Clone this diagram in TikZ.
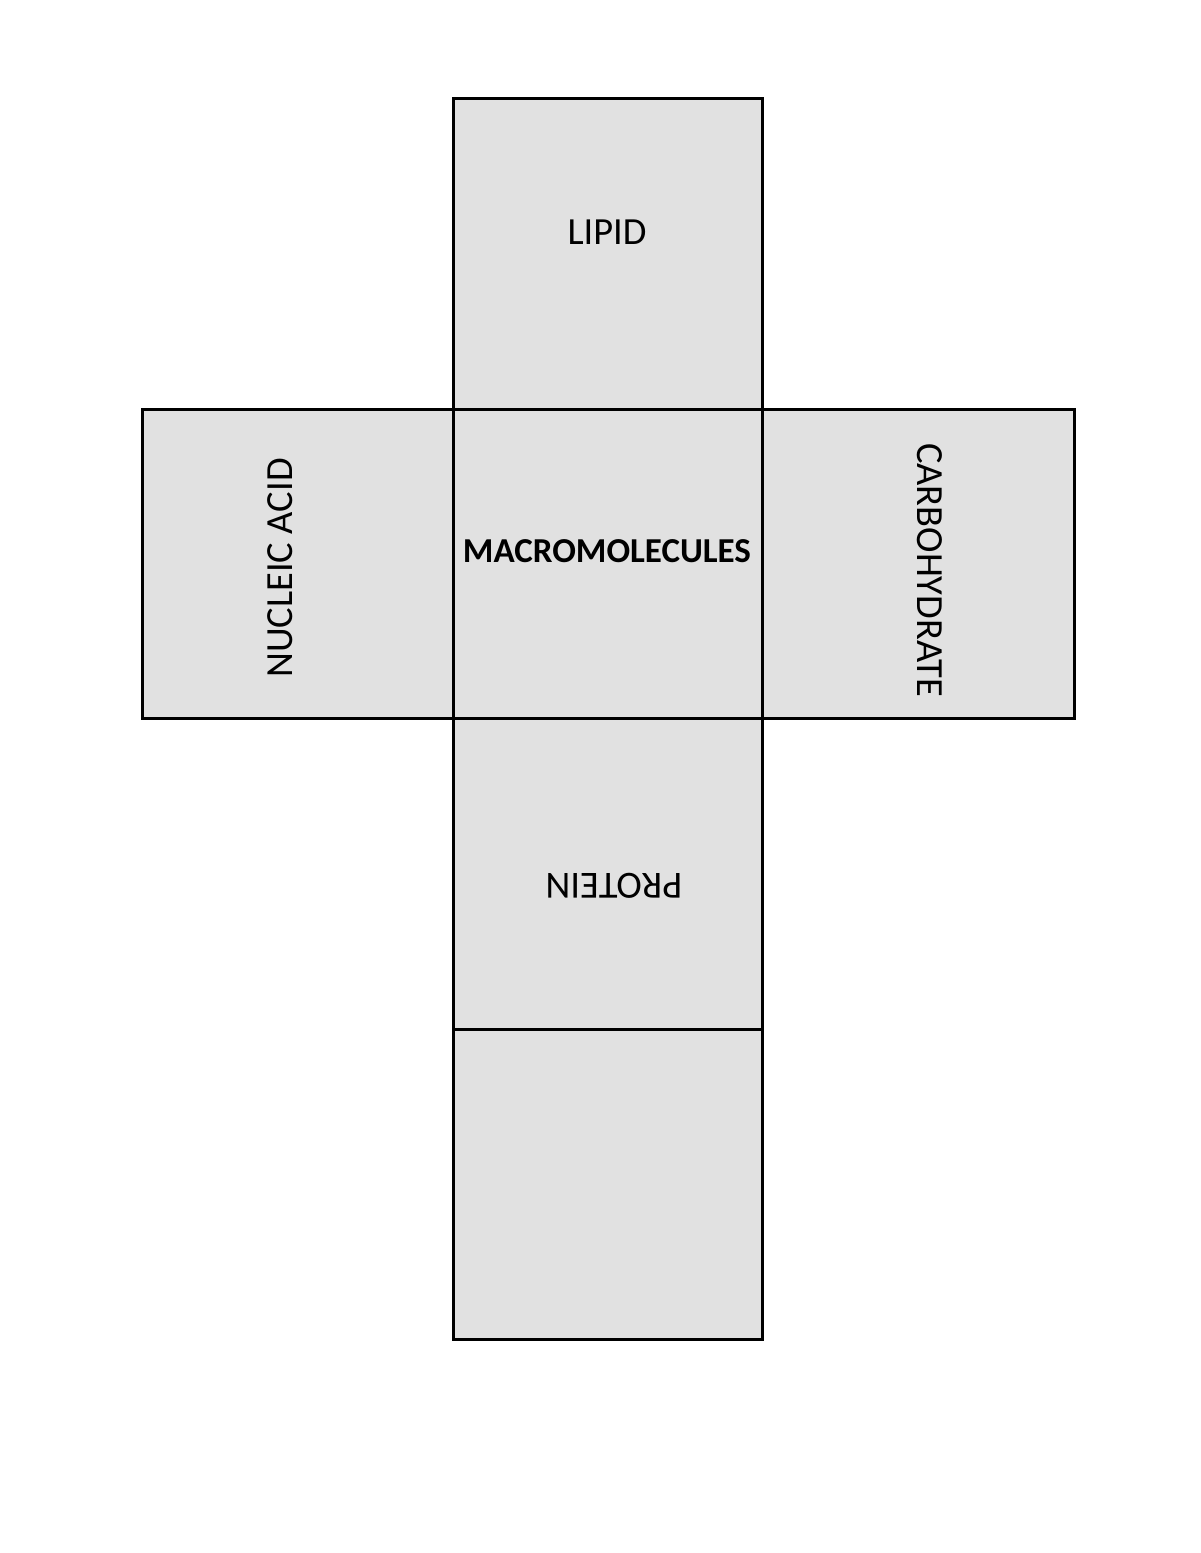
\documentclass[tikz,border=0pt]{standalone}
\usepackage{fontspec}
\setmainfont{Carlito}
\definecolor{facegray}{HTML}{E1E1E1}
\tikzset{
  face/.style={draw=black, fill=facegray, line width=1.5pt},
  facelabel/.style={inner sep=0pt, font=\fontsize{19.2}{23}\selectfont},
  titlelabel/.style={inner sep=0pt, font=\fontsize{17.5}{21}\selectfont\bfseries},
}
\begin{document}
\begin{tikzpicture}[x=0.5pt, y=-0.5pt]
\useasboundingbox (0,0) rectangle (1200,1553);
\fill[white] (0,0) rectangle (1200,1553);
% faces
\draw[face] (453,98) rectangle (762,409);
\draw[face] (142,409) rectangle (453,718);
\draw[face] (453,409) rectangle (762,718);
\draw[face] (762,409) rectangle (1074,718);
\draw[face] (453,718) rectangle (762,1029);
\draw[face] (453,1029) rectangle (762,1339);
% labels
\node[facelabel] (lipid) at (607,232) {LIPID};
\node[titlelabel] (macro) at (607,551) {MACROMOLECULES};
\node[facelabel, rotate=90] (nucleic) at (280,568) {NUCLEIC ACID};
\node[facelabel, rotate=-90] (carb) at (930,570) {CARBOHYDRATE};
\node[facelabel, rotate=180] (protein) at (614,886) {PROTEIN};
\end{tikzpicture}
\end{document}
